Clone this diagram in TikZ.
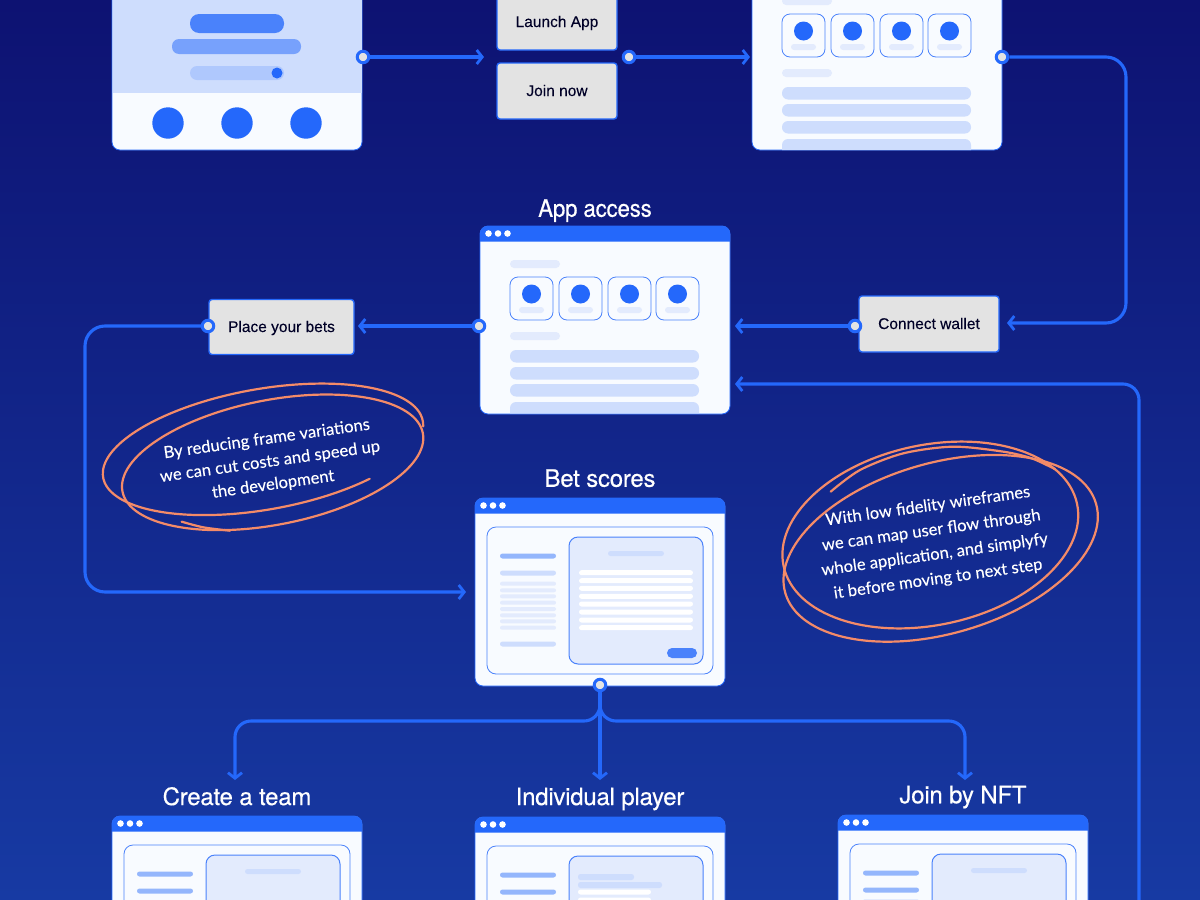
\documentclass[tikz,border=0pt]{standalone}
\usepackage{fontspec}
\usetikzlibrary{arrows.meta}
\setmainfont[FakeBold=0.15]{Liberation Sans}
\newfontfamily\headfont[LetterSpace=-1,FakeBold=0.35]{TeX Gyre Heros}
\newfontfamily\notefont[FakeBold=0.1]{Lato}
\definecolor{skyA}{HTML}{0D1272}
\definecolor{skyB}{HTML}{173AA3}
\definecolor{linkblue}{HTML}{2468FB}
\definecolor{midblue}{HTML}{4A82FB}
\definecolor{softblue}{HTML}{94B6FC}
\definecolor{paleblue}{HTML}{CEDDFD}
\definecolor{iceblue}{HTML}{E3EBFD}
\definecolor{sheet}{HTML}{F8FBFF}
\definecolor{btngray}{HTML}{E3E3E3}
\definecolor{scrawl}{HTML}{F48B68}
\begin{document}
\begin{tikzpicture}[x=1pt, y=-1pt,
	win/.style={rectangle, draw=linkblue, line width=0.8pt, fill=sheet, rounded corners=8pt, inner sep=0pt, minimum width=250pt},
	btn/.style={rectangle, draw=linkblue, line width=1.4pt, fill=btngray, rounded corners=3pt, inner sep=0pt, text height=11pt, text depth=1pt, font=\fontsize{15.5}{18}\selectfont, text=black!85!blue},
	port/.style={circle, draw=linkblue, line width=3pt, fill=btngray, inner sep=0pt, minimum size=11.5pt},
	head/.style={text=white, inner sep=0pt, text height=17.5pt, text depth=5pt, font=\headfont\fontsize{24}{28}\selectfont},
	note/.style={text=white, inner sep=0pt, align=center, font=\notefont\fontsize{16.6}{24.5}\selectfont},
	link/.style={draw=linkblue, line width=3.1pt, -{Straight Barb[length=5.5pt,width=14pt,line width=2.8pt]}},
	scribble/.style={draw=scrawl, line width=2.2pt, line cap=round}]
	\clip (0,0) rectangle (1200,900);
	\shade[top color=skyA, bottom color=skyB] (0,0) rectangle (1200,900);

	% screens
	\node[win, minimum height=200pt] (landing) at (237,50) {};
	\node[win, minimum height=200pt] (intro) at (877,50) {};
	\node[win, minimum height=188pt] (access) at (605,320) {};
	\node[win, minimum height=188pt] (scores) at (600,592) {};
	\node[win, minimum height=200pt] (team) at (237,916) {};
	\node[win, minimum height=200pt] (player) at (600,917) {};
	\node[win, minimum height=200pt] (nft) at (963,915) {};

	% landing card
	\fill[paleblue] (112.5,-10) rectangle (362,93);
	\fill[midblue, rounded corners=9pt] (190,14) rectangle (284,33);
	\fill[midblue!75!white, rounded corners=7pt] (172,39) rectangle (301,54);
	\fill[softblue!75!white, rounded corners=7pt] (190,66) rectangle (284,80);
	\fill[linkblue] (277,73) circle (5.5);
	\foreach \x in {168,237,306} {
		\fill[linkblue] (\x,123) circle (15.7);
	}

	% window headers
	\foreach \wx/\wy in {480/226, 475/498, 112/816, 475/817, 838/815} {
		\fill[linkblue] (\wx,\wy+15.5) [rounded corners=8pt] -- (\wx,\wy) -- (\wx+250,\wy) [sharp corners] -- (\wx+250,\wy+15.5) -- cycle;
		\foreach \d in {8.5,18,27.5} {
			\fill[white] (\wx+\d,\wy+7.5) circle (3.3);
		}
	}

	% icon rows and list bars
	\foreach \ox/\oy in {510/277, 782/14} {
		\fill[iceblue, rounded corners=4pt] (\ox,\oy-17) rectangle (\ox+50,\oy-9);
		\foreach \t in {0,49,98,146} {
			\draw[midblue, line width=0.8pt, rounded corners=8pt] (\ox+\t,\oy) rectangle (\ox+\t+43,\oy+43);
			\fill[linkblue] (\ox+\t+21.5,\oy+17) circle (9.5);
			\fill[iceblue, rounded corners=3pt] (\ox+\t+9,\oy+30) rectangle (\ox+\t+34,\oy+36);
		}
		\fill[iceblue, rounded corners=4pt] (\ox,\oy+55) rectangle (\ox+50,\oy+63);
		\foreach \b in {73,90,107} {
			\fill[paleblue, rounded corners=6pt] (\ox,\oy+\b) rectangle (\ox+189,\oy+\b+12.5);
		}
		\fill[paleblue] (\ox,\oy+136) [rounded corners=6pt] -- (\ox,\oy+125) -- (\ox+189,\oy+125) [sharp corners] -- (\ox+189,\oy+136) -- cycle;
	}

	% panels in the lower windows
	\foreach \wx/\wy in {475/498, 112/816, 475/817, 838/815} {
		\draw[midblue, line width=0.8pt, rounded corners=9pt] (\wx+12,\wy+29) rectangle (\wx+238,\wy+176);
		\draw[midblue, line width=1pt, fill=iceblue, rounded corners=9pt] (\wx+94,\wy+39) rectangle (\wx+228,\wy+166);
		\fill[softblue, rounded corners=2.5pt] (\wx+25,\wy+55.5) rectangle (\wx+81,\wy+60.5);
	}
	\foreach \wx/\wy in {112/816, 475/817, 838/815} {
		\fill[softblue, rounded corners=2.5pt] (\wx+25,\wy+72.5) rectangle (\wx+81,\wy+77.5);
		\fill[iceblue, rounded corners=2pt] (\wx+25,\wy+84) rectangle (\wx+81,\wy+88);
	}
	\foreach \wx/\wy in {112/816, 838/815} {
		\fill[paleblue, rounded corners=2.5pt] (\wx+133,\wy+53) rectangle (\wx+189,\wy+58);
	}
	\fill[paleblue, rounded corners=2.5pt] (608,551) rectangle (664,556);
	\fill[paleblue, rounded corners=2.5pt] (578,874) rectangle (634,880);
	\fill[paleblue, rounded corners=2.5pt] (578,882) rectangle (662,888);
	\foreach \y in {892,900} {
		\fill[white, rounded corners=2.5pt] (578,\y-2.5) rectangle (651,\y+2.5);
	}
	\foreach \y in {572.7,580.7,588.3,596.3,604,612,620,627.7} {
		\fill[white, rounded corners=2.5pt] (579,\y-2.5) rectangle (693,\y+2.5);
	}
	\fill[midblue, rounded corners=5pt] (667,648) rectangle (697,658);
	\fill[paleblue, rounded corners=2.5pt] (500,570.5) rectangle (556,575.5);
	\fill[paleblue, rounded corners=2.5pt] (500,641.5) rectangle (556,646.5);
	\foreach \y in {583.7,590.3,596.3,602.7,609,615.3,621.3,627.7} {
		\fill[iceblue, rounded corners=2pt] (500,\y-2) rectangle (556,\y+2);
	}

	% titles
	\node[head, transform shape, xscale=0.93] (taccess) at (595,210.5) {App access};
	\node[head] (tscores) at (600,480.5) {Bet scores};
	\node[head] (tteam) at (237,798.8) {Create a team};
	\node[head] (tplayer) at (600,798.8) {Individual player};
	\node[head] (tnft) at (963,797) {Join by NFT};

	% buttons
	\node[btn, minimum width=120pt, minimum height=56pt] (launch) at (557,22) {Launch App};
	\node[btn, minimum width=120pt, minimum height=56pt] (joinnow) at (557,91) {Join now};
	\node[btn, minimum width=145pt, minimum height=55pt] (bets) at (281.5,327) {Place your bets};
	\node[btn, minimum width=140pt, minimum height=56pt] (wallet) at (929,324) {Connect wallet};

	% ports
	\node[port] (p1) at (363,57) {};
	\node[port] (p2) at (629,57) {};
	\node[port] (p3) at (1002,57) {};
	\node[port] (p4) at (855,326) {};
	\node[port] (p5) at (479,326) {};
	\node[port] (p6) at (208,326) {};
	\node[port] (p7) at (600,685) {};

	% arrow ends and turning points
	\coordinate (t1) at (484,57);
	\coordinate (t2) at (750,57);
	\coordinate (e3) at (1126,200);
	\coordinate (t3) at (1007,323);
	\coordinate (t4) at (735,326);
	\coordinate (t5) at (358,326);
	\coordinate (e6) at (85,450);
	\coordinate (t6) at (466,592);
	\coordinate (m7) at (600,721);
	\coordinate (t7a) at (235,780);
	\coordinate (t7b) at (600,780);
	\coordinate (t7c) at (965,780);
	\coordinate (s8) at (1139,905);
	\coordinate (t8) at (735,384);

	\draw[link] (p1) -- (t1);
	\draw[link] (p2) -- (t2);
	\draw[link, rounded corners=20pt] (p3) -| (e3) |- (t3);
	\draw[link] (p4) -- (t4);
	\draw[link] (p5) -- (t5);
	\draw[link, rounded corners=20pt] (p6) -| (e6) |- (t6);
	\draw[link, rounded corners=16pt] (p7.south) |- (t7a |- m7) -- (t7a);
	\draw[link] (p7) -- (t7b);
	\draw[link, rounded corners=16pt] (p7.south) |- (t7c |- m7) -- (t7c);
	\draw[link, rounded corners=16pt] (s8) |- (t8);

	% notes
	\node[note, rotate=8] (note1) at (270,462) {By reducing frame variations\\[-1.5pt]we can cut costs and speed up\\[-1.5pt]the development};
	\node[note, rotate=8] (note2) at (933,543) {With low fidelity wireframes\\we can map user flow through\\whole application, and simplyfy\\it before moving to next step};

	% pen loops, coordinates as in a 3x crop
	\begin{scope}[shift={(90,370)}, scale=1/3]
		\draw[scribble, rotate around={10:(519,238)}] plot[domain=52:365, samples=80, smooth] ({519+487*cos(\x)},{238+181*sin(\x)});
		\draw[scribble] (548,277) circle[x radius=459, y radius=187, rotate=11];
		\draw[scribble] plot[smooth] coordinates {(275,455) (340,472) (420,482)};
	\end{scope}
	\begin{scope}[shift={(770,430)}, scale=1/3]
		\draw[scribble] (481,315) circle[x radius=450, y radius=270, rotate=12];
		\draw[scribble] (512,355) circle[x radius=485, y radius=256, rotate=16];
		\draw[scribble] plot[smooth] coordinates {(182,185) (270,120) (400,70) (550,50) (700,65) (785,85) (856,118)};
	\end{scope}
\end{tikzpicture}
\end{document}
